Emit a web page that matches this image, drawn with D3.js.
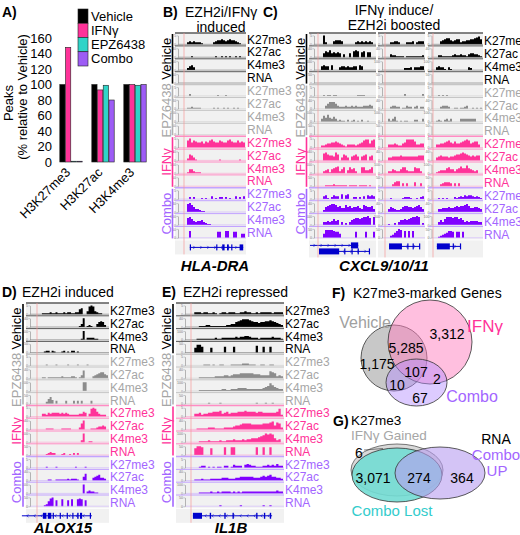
<!DOCTYPE html>
<html>
<head>
<meta charset="utf-8">
<script src="https://cdn.jsdelivr.net/npm/d3@7"></script>
<style>
  body { margin: 0; background: #fff; }
  svg { display: block; }
  text { font-family: "Liberation Sans", Arial, sans-serif; }
</style>
</head>
<body>
<div id="chart"></div>
<script>
// ---- panel A data ----
const histones = ['H3K27me3', 'H3K27ac', 'H3K4me3'];
const treatments = ['Vehicle', 'IFNγ', 'EPZ6438', 'Combo'];
const peaksVehicle = [100, 100, 100];
const peaksIFNg = [148, 93, 100];
const peaksEPZ = [1, 99, 99];
const peaksCombo = [1, 80, 100];
const peakTicks = [0, 20, 40, 60, 80, 100, 120, 140, 160];

// ---- browser tracks (one digit per bin, 0-9 signal) ----
const marks = ['K27me3', 'K27ac', 'K4me3', 'RNA'];
const conditions = ['Vehicle', 'EPZ6438', 'IFNγ', 'Combo'];
const axisMax = ['5', '40', '100', '50'];

const tracksB = [
  '023232221000002344543454432100', '000100000000000100101010010100',
  '024530000000000000000000000000', '000000000000000000000000000000',
  '002000000000000010001000000000', '011211110000001010010100101000',
  '000000000000000000000000000000', '000000000000000000000000000000',
  '079576556465786557655786557565', '026531000000000001000000000100',
  '014421110000000000000000000000', '000000000000000000000000000000',
  '002020001010030102202010030203', '089753321100000000000000000000',
  '078643445321100000000000000000', '007000000000000066007700660044'
];
const tracksC1 = [
  '0092000344430000002323232320', '0046574545403004067605605500',
  '0454405000344343344054000000', '0000000000000000000000000000',
  '0010110110000000000111100000', '0003577753222322323222333430',
  '0364743531211020120102001000', '0000000000000000000000000000',
  '0223445565432133332345788478', '0078655486036530456404560450',
  '0023414567246036452006633460', '0001111211111101111011110100',
  '0034102433050450022020304343', '0025678875644756455643765563',
  '0033434645030203567767889708', '0048888766400000006000060006'
];
const tracksC2 = [
  '0022332000222302333', '0032211110111111112',
  '0000000002223033344', '0000000000000000000',
  '0000000002000000002', '0023322011322023022',
  '0313510101100022003', '0000000000000000000',
  '0333432245888863344', '0334444544444444555',
  '0224322466322265520', '0002455030300040030',
  '0010000012221001023', '0354322356655456753',
  '0100203556567889802', '0023579807070700000'
];
const tracksC3 = [
  '000345664345523344556785', '002211111232232213443321',
  '034331031000000003200000', '000000000000000000000000',
  '001010100000000000000000', '000233320011011230010101',
  '012102313000033333333000', '000000000000000000000000',
  '033445675464456787456630', '034544434456678765454550',
  '012333564424575585432300', '000234443030300000000000',
  '001010100021232434432321', '003344454456566786445543',
  '003536888788675343444433', '001234577606606000000000'
];
const tracksD = [
  '001111211211121221122560038983211000', '000000000000000000000139012100356520',
  '000000000000000000000019022221100000', '000122021000120102201000000000000000',
  '000010000100000100001000010000000000', '001101111111211112210138000023456643',
  '000000000000000000000009900000000000', '000025740300003000303030000300000000',
  '003324344443434322222335403898532220', '000011110000111110000269000111233430',
  '000000000000000000000029001100000000', '000012322000120010202000000000000000',
  '000010000100000000010000100000000000', '000001100111111212221004700034563320',
  '000000000000000000000009023221100000', '000125890600700607007870600000000000'
];
const tracksE = [
  '0222122112101221222112232211212222212222', '0001112211111112233567888765545566765432',
  '0011111111211222222323344322212222232221', '0588600050000060006000000000700600600000',
  '0000011101001100011111222111001100110000', '0001111111222233234445555554443333765232',
  '0001111111111221122233332222222345864322', '0000000100001000000000000000100010010000',
  '0334233445556345344455565555455444444582', '0011111222111122223445666655555666784762',
  '0001111211112112223222323344456798984230', '0799800070000080088000000000800800800000',
  '0001220101011022013222034322111223232422', '0111211122222333222334444443334545644332',
  '0001111121121222212121222222222222222322', '0000000000001000000001000000000100100000'
];

// gene models: intron line and exons, in % of the browser window
const geneB = [{ line: [8, 97], exons: [[8, 9], [52, 54], [62, 66], [70, 73], [77, 79], [91, 97]] }];
const geneC1 = [
  { line: [-16, 70], exons: [[57, 70]] },
  { line: [0, 91], exons: [[0, 36], [45, 47], [58, 60], [69, 71], [89, 91]] }
];
const geneC2 = [{ line: [8, 89], exons: [[8, 42], [56, 58], [70, 72], [87, 89]] }];
const geneC3 = [{ line: [6, 56], exons: [[6, 33], [39, 41], [54, 56]] }];
const geneD = [{ line: [-23, 77], exons: [[7, 12], [14, 19], [21, 22], [31, 32], [41, 42], [49, 50], [56, 58], [60, 63], [74, 75]] }];
const geneE = [{ line: [1, 88], exons: [[1, 11], [19.5, 21], [35.5, 37], [44.5, 46], [70.5, 72], [79, 80.5], [85.5, 87]] }];

// ---- venn data ----
const vennFSets = ['Vehicle', 'IFNγ', 'Combo'];
// Veh only, IFN only, Combo only, Veh∩IFN, Veh∩Combo, IFN∩Combo, all three
const vennFCounts = ['1,175', '3,312', '67', '5,285', '10', '2', '107'];
// Gained only, Lost only, Lost∩UP, UP only
const vennGCounts = ['6', '3,071', '274', '364'];

const W = 520, H = 535;
const svg = d3.select('#chart').append('svg').attr('width', W).attr('height', H);

function txt(g, x, y, s, o = {}) {
  return g.append('text').attr('x', x).attr('y', y).text(s)
    .attr('font-size', o.size || 13)
    .attr('fill', o.fill || '#000')
    .attr('font-weight', o.weight || null)
    .attr('font-style', o.style || null)
    .attr('text-anchor', o.anchor || 'start');
}

// ================= Panel A =================
const gA = svg.append('g');
const aY = d3.scaleLinear().domain([0, 160]).range([162, 38]);
const aX = d3.scaleBand().domain(histones).range([55, 151]).paddingInner(0.3).paddingOuter(0.15);
const aInner = d3.scaleBand().domain(treatments).range([0, aX.bandwidth()]).paddingInner(0.08);
const treatColor = d3.scaleOrdinal(treatments, ['#000000', '#ff3399', '#2fd4c8', '#9d5cf5']);
const series = [peaksVehicle, peaksIFNg, peaksEPZ, peaksCombo];

treatments.forEach((t, ti) => {
  gA.selectAll(null).data(histones).enter().append('rect')
    .attr('x', h => aX(h) + aInner(t))
    .attr('y', (h, hi) => aY(series[ti][hi]))
    .attr('width', aInner.bandwidth())
    .attr('height', (h, hi) => aY(0) - aY(series[ti][hi]))
    .attr('fill', treatColor(t))
    .attr('stroke', '#222').attr('stroke-width', 0.6);
});

const aAxis = gA.append('g').attr('transform', 'translate(55,0)')
  .call(d3.axisLeft(aY).tickValues(peakTicks).tickSize(0).tickPadding(3));
aAxis.select('.domain').remove();
aAxis.selectAll('text').attr('font-size', 13).attr('fill', '#000')
  .attr('font-family', '"Liberation Sans", Arial, sans-serif');

histones.forEach(h => {
  gA.append('text')
    .attr('transform', `translate(${aX(h) + aX.bandwidth() / 2 - 3},${aY(0) + 8}) rotate(-45)`)
    .attr('text-anchor', 'end').attr('dy', '0.35em').attr('font-size', 13).text(h);
});

gA.append('text').attr('transform', 'translate(8,103) rotate(-90)')
  .attr('text-anchor', 'middle').attr('dy', '0.35em').attr('font-size', 13).text('Peaks');
gA.append('text').attr('transform', 'translate(22,97) rotate(-90)')
  .attr('text-anchor', 'middle').attr('dy', '0.35em').attr('font-size', 13).text('(% relative to Vehicle)');

const legY = d3.scaleBand().domain(treatments).range([9, 66]);
treatments.forEach(t => {
  gA.append('rect').attr('x', 78).attr('y', legY(t)).attr('width', 10).attr('height', legY.bandwidth())
    .attr('fill', treatColor(t)).attr('stroke', '#222').attr('stroke-width', 0.6);
  txt(gA, 91, legY(t) + legY.bandwidth() / 2 + 4.5, t, { size: 13 });
});
txt(gA, 2, 17, 'A)', { size: 14, weight: 'bold' });

// ================= browser panels =================
const condStyle = {
  'Vehicle': { text: '#000000', fill: '#000000', rule: '#5a5a5a', bar: '#000000' },
  'EPZ6438': { text: '#a6a6a6', fill: '#8c8c8c', rule: '#c6c6c6', bar: '#b0b0b0' },
  'IFNγ':    { text: '#ff3399', fill: '#ff3399', rule: '#ff8cc4', bar: '#ff3399' },
  'Combo':   { text: '#a366ff', fill: '#8000ff', rule: '#c2a3ff', bar: '#a366ff' }
};

function drawTracks(p) {
  const g = svg.append('g');
  const bottom = p.top + p.pitch * p.tracks.length;

  p.tracks.forEach((s, i) => {
    const vals = s.split('').map(Number);
    const st = condStyle[conditions[Math.floor(i / 4)]];
    const t = p.top + i * p.pitch;
    const x = d3.scaleLinear().domain([0, vals.length]).range([p.x0, p.x1]);
    const y = d3.scaleLinear().domain([0, 9]).range([t + p.pitch - 1.6, t + 2.4]);

    g.append('rect').attr('x', p.bgLeft).attr('y', t)
      .attr('width', p.x1 + 1 - p.bgLeft).attr('height', p.pitch).attr('fill', '#f1f1f1');

    const area = d3.area().x((d, j) => x(j)).y0(y(0)).y1(d => y(d)).curve(d3.curveStepAfter);
    g.append('path').datum(vals.concat([0])).attr('d', area).attr('fill', st.fill);

    g.append('line').attr('x1', p.bgLeft).attr('x2', p.x1 + 1).attr('y1', t).attr('y2', t)
      .attr('stroke', st.rule).attr('stroke-width', i % 4 === 0 ? 1.5 : 1);
    g.append('line').attr('x1', p.axisX).attr('x2', p.x1 + 1).attr('y1', y(0)).attr('y2', y(0))
      .attr('stroke', st.rule).attr('stroke-width', 0.5);

    const ax = g.append('g').attr('transform', `translate(${p.axisX},0)`)
      .call(d3.axisLeft(y).tickValues([0, 9]).tickSize(1.5).tickSizeOuter(0).tickPadding(0.5)
        .tickFormat(d => d ? axisMax[i % 4] : '0'));
    ax.select('.domain').attr('stroke', '#8a8a8a').attr('stroke-width', 0.6);
    ax.selectAll('line').attr('stroke', '#8a8a8a').attr('stroke-width', 0.4);
    ax.selectAll('text').attr('font-size', 3.6).attr('fill', '#777');

    if (p.labelX) txt(g, p.labelX, t + p.labelDy, marks[i % 4], { size: 12, fill: st.text });
  });

  // gene track
  const geneTop = bottom + 1;
  g.append('rect').attr('x', p.bgLeft).attr('y', geneTop)
    .attr('width', p.x1 + 1 - p.bgLeft).attr('height', p.geneH).attr('fill', '#f1f1f1');
  const gx = d3.scaleLinear().domain([0, 100]).range([p.x0, p.x1]);
  p.gene.forEach((row, r) => {
    const gy = geneTop + p.geneRows[r];
    g.append('line').attr('x1', gx(row.line[0])).attr('x2', gx(row.line[1]))
      .attr('y1', gy).attr('y2', gy).attr('stroke', '#0000cc').attr('stroke-width', 1);
    const dir = p.strand || 1;
    for (let cx = gx(row.line[0]) + 5; cx < gx(row.line[1]) - 3; cx += 7) {
      g.append('path').attr('d', `M${cx - 1.5 * dir},${gy - 1.5}L${cx},${gy}L${cx - 1.5 * dir},${gy + 1.5}`)
        .attr('fill', 'none').attr('stroke', '#0000cc').attr('stroke-width', 0.6);
    }
    g.selectAll(null).data(row.exons).enter().append('rect')
      .attr('x', d => gx(d[0])).attr('width', d => Math.max(1.2, gx(d[1]) - gx(d[0])))
      .attr('y', gy - 3).attr('height', 6).attr('fill', '#0000cc');
  });

  // red view line
  g.append('line').attr('x1', p.x0 - 1).attr('x2', p.x0 - 1)
    .attr('y1', p.top).attr('y2', geneTop + p.geneH)
    .attr('stroke', '#f59a9a').attr('stroke-width', 0.7);

  // condition bars
  if (p.groupBarX) {
    conditions.forEach((c, k) => {
      const st = condStyle[c];
      const y0 = p.top + k * 4 * p.pitch + 1, y1 = p.top + (k + 1) * 4 * p.pitch - 1;
      g.append('line').attr('x1', p.groupBarX).attr('x2', p.groupBarX).attr('y1', y0).attr('y2', y1)
        .attr('stroke', st.bar).attr('stroke-width', 1.6);
      g.append('text').attr('transform', `translate(${p.groupLabelX},${(y0 + y1) / 2}) rotate(-90)`)
        .attr('text-anchor', 'middle').attr('dy', '0.35em').attr('font-size', 13)
        .attr('fill', st.text).text(c);
    });
  }
  if (p.name) txt(g, p.nameX, p.nameY, p.name, { size: 15, weight: 'bold', style: 'italic', anchor: 'middle' });
}

drawTracks({ tracks: tracksB, gene: geneB, geneRows: [7], geneH: 14, bgLeft: 175, axisX: 178, x0: 185, x1: 245,
  top: 33, pitch: 12.9, labelX: 247, labelDy: 10.5, groupBarX: 172.5, groupLabelX: 166,
  name: 'HLA-DRA', nameX: 215, nameY: 271 });
drawTracks({ tracks: tracksC1, gene: geneC1, geneRows: [5, 11], geneH: 17, bgLeft: 309, axisX: 314, x0: 319, x1: 375,
  top: 33, pitch: 12.9, groupBarX: 306.5, groupLabelX: 300 });
drawTracks({ tracks: tracksC2, gene: geneC2, geneRows: [6], geneH: 17, bgLeft: 378, axisX: 382, x0: 386, x1: 424,
  top: 33, pitch: 12.9 });
drawTracks({ tracks: tracksC3, gene: geneC3, geneRows: [6], geneH: 17, bgLeft: 428, axisX: 431.5, x0: 434, x1: 482,
  top: 33, pitch: 12.9, labelX: 484, labelDy: 12,
  name: 'CXCL9/10/11', nameX: 384, nameY: 271 });
drawTracks({ tracks: tracksD, gene: geneD, geneRows: [7], geneH: 14, bgLeft: 26, axisX: 30, x0: 38, x1: 108,
  top: 303, pitch: 12.8, labelX: 110, labelDy: 12, groupBarX: 23, groupLabelX: 16, strand: -1,
  name: 'ALOX15', nameX: 63, nameY: 533 });
drawTracks({ tracks: tracksE, gene: geneE, geneRows: [7], geneH: 14, bgLeft: 176, axisX: 185, x0: 192, x1: 283,
  top: 303, pitch: 12.8, labelX: 285, labelDy: 12, groupBarX: 173, groupLabelX: 166, strand: -1,
  name: 'IL1B', nameX: 231, nameY: 533 });

// panel titles
txt(svg, 163, 17, 'B)', { size: 14, weight: 'bold' });
txt(svg, 185, 17, 'EZH2i/IFNγ', { size: 14 });
txt(svg, 221, 32, 'induced', { size: 14, anchor: 'middle' });
txt(svg, 263, 17, 'C)', { size: 14, weight: 'bold' });
txt(svg, 394, 15, 'IFNγ induce/', { size: 14, anchor: 'middle' });
txt(svg, 394, 30, 'EZH2i boosted', { size: 14, anchor: 'middle' });
txt(svg, 2, 297, 'D)', { size: 14, weight: 'bold' });
txt(svg, 22, 297, 'EZH2i induced', { size: 14 });
txt(svg, 162, 297, 'E)', { size: 14, weight: 'bold' });
txt(svg, 183, 297, 'EZH2i repressed', { size: 14 });

// ================= Panel F =================
const gF = svg.append('g');
const vennFShapes = [ // geometry of the three sets (px)
  { cx: 394, cy: 358, rx: 33, ry: 33, fill: '#b0b0b0', op: 0.7 },
  { cx: 430, cy: 342, rx: 42, ry: 42, fill: '#ff80c0', op: 0.5 },
  { cx: 416.5, cy: 382.5, rx: 30.5, ry: 23.5, fill: '#b38cff', op: 0.45 }
];
gF.selectAll(null).data(vennFShapes).enter().append('ellipse')
  .attr('cx', d => d.cx).attr('cy', d => d.cy).attr('rx', d => d.rx).attr('ry', d => d.ry)
  .attr('fill', d => d.fill).attr('fill-opacity', d => d.op)
  .attr('stroke', '#333').attr('stroke-width', 0.8);
const vennFTextPos = [[377, 369], [447, 339], [420, 403], [406, 353], [397, 390], [437, 384], [416, 377]];
vennFCounts.forEach((c, i) => txt(gF, vennFTextPos[i][0], vennFTextPos[i][1], c, { size: 14, anchor: 'middle' }));
txt(gF, 365, 328, vennFSets[0], { size: 16, fill: '#a0a0a0', anchor: 'middle' });
txt(gF, 485, 332, vennFSets[1], { size: 17, fill: '#ff3399', anchor: 'middle' });
txt(gF, 472, 402, vennFSets[2], { size: 16, fill: '#a366ff', anchor: 'middle' });
txt(gF, 332, 298, 'F)', { size: 14, weight: 'bold' });
txt(gF, 353, 298, 'K27me3-marked Genes', { size: 14 });

// ================= Panel G =================
const gG = svg.append('g');
const vennGShapes = [
  { cx: 397, cy: 470, rx: 46, ry: 26, fill: '#d9d9d9', op: 1, stroke: '#555' },
  { cx: 397, cy: 475, rx: 45, ry: 27, fill: '#72dcd3', op: 0.9, stroke: '#333' },
  { cx: 440, cy: 473, rx: 45, ry: 26, fill: '#b89cf0', op: 0.6, stroke: '#333' }
];
gG.selectAll(null).data(vennGShapes).enter().append('ellipse')
  .attr('cx', d => d.cx).attr('cy', d => d.cy).attr('rx', d => d.rx).attr('ry', d => d.ry)
  .attr('fill', d => d.fill).attr('fill-opacity', d => d.op)
  .attr('stroke', d => d.stroke).attr('stroke-width', 0.8);
gG.append('line').attr('x1', 364).attr('x2', 383).attr('y1', 450).attr('y2', 448.5)
  .attr('stroke', '#333').attr('stroke-width', 0.6);
const vennGTextPos = [[359, 458], [373, 483], [419, 483], [462, 483]];
vennGCounts.forEach((c, i) => txt(gG, vennGTextPos[i][0], vennGTextPos[i][1], c, { size: 14, anchor: 'middle' }));
txt(gG, 333, 426, 'G)', { size: 14, weight: 'bold' });
txt(gG, 351, 425, 'K27me3', { size: 13.5 });
txt(gG, 351, 440, 'IFNγ Gained', { size: 13.5, fill: '#a6a6a6' });
txt(gG, 496, 444, 'RNA', { size: 14, anchor: 'middle' });
txt(gG, 496, 460, 'Combo', { size: 15, fill: '#a366ff', anchor: 'middle' });
txt(gG, 497, 476, 'UP', { size: 15, fill: '#a366ff', anchor: 'middle' });
txt(gG, 392, 516, 'Combo Lost', { size: 15, fill: '#33cccc', anchor: 'middle' });
</script>
</body>
</html>
